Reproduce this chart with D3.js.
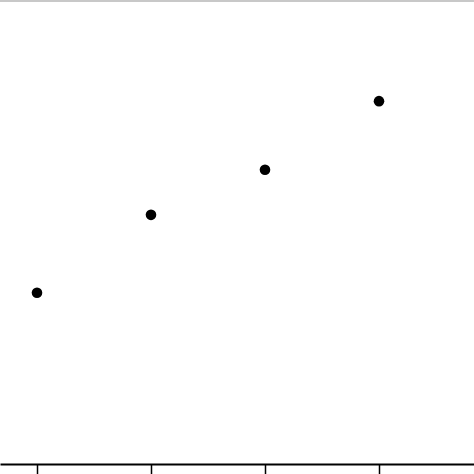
<!DOCTYPE html>
<html>
<head>
<meta charset="utf-8">
<script src="https://cdn.jsdelivr.net/npm/d3@7"></script>
<style>
html,body{margin:0;padding:0;background:#fff;overflow:hidden;}
svg{display:block;}
</style>
</head>
<body>
<script>
const categories = [1, 2, 3, 4];
const values = [3.69, 5.37, 6.34, 7.82];
const tickValues = [1, 2, 3, 4];

const W = 474, H = 474;
const svg = d3.select("body").append("svg").attr("width", W).attr("height", H);

const x = d3.scaleLinear().domain([1 - 37/114, 1 + 437/114]).range([0, W]);
const y = d3.scaleLinear().domain([0, 10]).range([464, 0]);

svg.append("line").attr("x1", 0).attr("x2", W).attr("y1", 1).attr("y2", 1)
  .attr("stroke", "#c8c8c8").attr("stroke-width", 2);

const ax = svg.append("g").attr("transform", `translate(0,${y(0)})`)
  .call(d3.axisBottom(x).tickValues(tickValues).tickSize(12).tickSizeOuter(0).tickFormat(""));
ax.select(".domain").attr("stroke", "#000").attr("stroke-width", 2);
ax.selectAll(".tick line").attr("stroke", "#000").attr("stroke-width", 1.5);

svg.selectAll("circle.pt").data(categories).enter().append("circle")
  .attr("class", "pt")
  .attr("cx", d => x(d))
  .attr("cy", (d, i) => y(values[i]))
  .attr("r", 5.3)
  .attr("fill", "#000");
</script>
</body>
</html>
